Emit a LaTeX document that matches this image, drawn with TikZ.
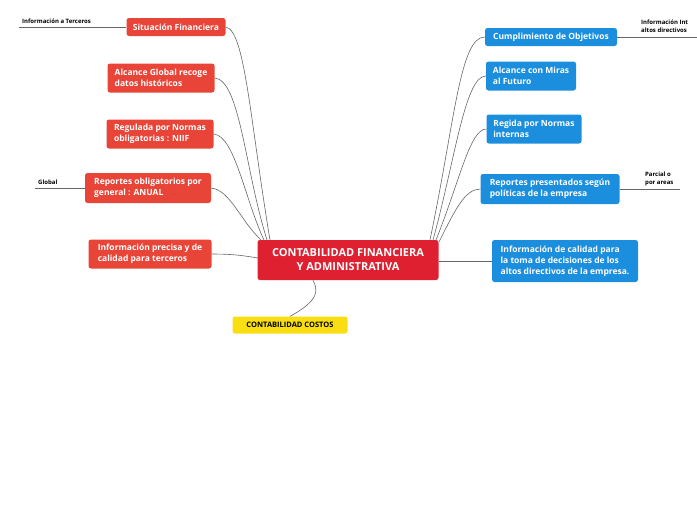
\documentclass[tikz,border=0pt]{standalone}
\usepackage{fontspec}
\setmainfont{Open Sans}
\begin{document}
\begin{tikzpicture}[x=1pt,y=-1pt,
 red/.style={fill=red!75!orange!95!black,draw=none,rounded corners=2.5pt,text=white,font=\bfseries\fontsize{8.5}{11}\selectfont,align=left,inner sep=4pt,anchor=center},
 blue/.style={red,fill=cyan!60!blue!85!white},
 leaf/.style={font=\bfseries\fontsize{6}{8}\selectfont,align=left,inner sep=0pt,anchor=west},
 con/.style={draw=gray!80!black,line width=0.6pt}]
\definecolor{rr}{RGB}{232,69,56}
\definecolor{bb}{RGB}{27,143,222}
\definecolor{cc}{RGB}{222,32,48}
\definecolor{yy}{RGB}{250,222,20}
\tikzset{red/.append style={fill=rr},blue/.append style={fill=bb}}
\useasboundingbox (0,0) rectangle (697,520);
\node[red,fill=cc,align=center,font=\bfseries\fontsize{11}{14}\selectfont,minimum width=181pt,minimum height=40pt] (c) at (348,260) {CONTABILIDAD FINANCIERA\\Y ADMINISTRATIVA};
\node[red,fill=yy,text=black,font=\bfseries\fontsize{7.5}{9}\selectfont,minimum width=115pt,minimum height=17pt] (k) at (290,325) {CONTABILIDAD COSTOS};
\node[red,minimum width=99pt,minimum height=18pt] (l1) at (176,27) {Situación Financiera};
\node[red,minimum width=107pt,minimum height=29pt] (l2) at (161,78) {Alcance Global recoge\\datos históricos};
\node[red,minimum width=107pt,minimum height=29pt] (l3) at (160,134) {Regulada por Normas\\obligatorias : NIIF};
\node[red,minimum width=126pt,minimum height=30pt] (l4) at (148,188) {Reportes obligatorios por\\general : ANUAL};
\node[red,minimum width=123pt,minimum height=29pt] (l5) at (150,254) {Información precisa y de\\calidad para terceros};
\node[blue,minimum width=132pt,minimum height=18pt] (r1) at (551,37) {Cumplimiento de Objetivos};
\node[blue,minimum width=90pt,minimum height=29pt] (r2) at (531,76) {Alcance con Miras\\al Futuro};
\node[blue,minimum width=95pt,minimum height=29pt] (r3) at (534,129) {Regida por Normas\\internas};
\node[blue,minimum width=139pt,minimum height=30pt] (r4) at (550,189) {Reportes presentados según\\políticas de la empresa};
\node[blue,minimum width=146pt,minimum height=42pt] (r5) at (565,261) {Información de calidad para\\la toma de decisiones de los\\altos directivos de la empresa.};
\node[leaf] (t1) at (22,21) {Información a Terceros};
\node[leaf] (t2) at (38,182) {Global};
\node[leaf] (t3) at (641,26) {Información Int\\altos directivos};
\node[leaf] (t4) at (645,179) {Parcial o\\por areas};
\coordinate (e1) at (19,27); \coordinate (e2) at (35,188);
\coordinate (e3) at (697,37); \coordinate (e4) at (680,189);
\draw[con] (l1.west) -- (e1);
\draw[con] (l4.west) -- (e2);
\draw[con] (r1.east) -- (e3);
\draw[con] (r4.east) -- (e4);
\draw[con] (l1.east) .. controls (245,30) and (250,120) .. (270,240);
\draw[con] (l2.east) .. controls (240,80) and (245,170) .. (267,240);
\draw[con] (l3.east) .. controls (235,136) and (245,200) .. (264,240);
\draw[con] (l4.east) .. controls (230,190) and (240,220) .. (261,240);
\draw[con] (l5.east) .. controls (235,254) and (245,256) .. (258,258);
\draw[con] (r1.west) .. controls (460,37) and (455,120) .. (430,240);
\draw[con] (r2.west) .. controls (465,76) and (455,160) .. (433,240);
\draw[con] (r3.west) .. controls (470,129) and (460,180) .. (436,240);
\draw[con] (r4.west) .. controls (465,189) and (455,210) .. (439,242);
\draw[con] (c.east |- 0,261) -- (r5.west);
\draw[con] (c.south) ++(-35,0) .. controls (318,290) and (320,300) .. (k.north) ;
\end{tikzpicture}
\end{document}
